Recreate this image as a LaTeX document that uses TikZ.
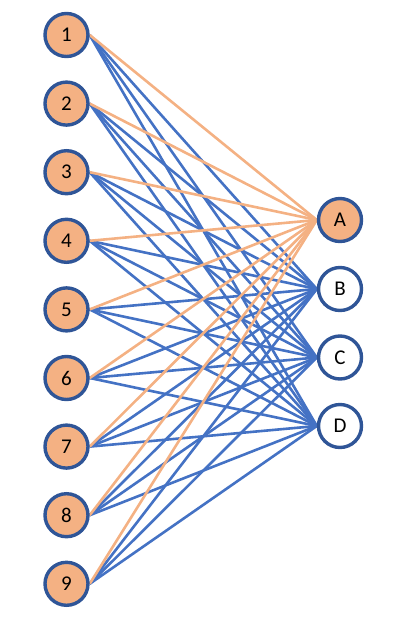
\documentclass[tikz,border=0pt]{standalone}
\usepackage{fontspec}
\setmainfont{Carlito}
\usetikzlibrary{backgrounds}
\definecolor{nodeorange}{HTML}{F4B183}
\definecolor{nodeborder}{HTML}{2F5597}
\definecolor{lineblue}{HTML}{4472C4}
\begin{document}
\begin{tikzpicture}[x=1pt,y=-1pt,
  vnode/.style={circle,draw=nodeborder,line width=3.4pt,minimum size=43pt,inner sep=0pt,
    font=\fontsize{21}{21}\selectfont},
  filled/.style={vnode,fill=nodeorange},
  empty/.style={vnode,fill=white},
  blueline/.style={draw=lineblue,line width=2.6pt},
  orangeline/.style={draw=nodeorange,line width=2.6pt}]
\useasboundingbox (0,0) rectangle (413,630);
\foreach \i in {1,...,9} {
  \node[filled] (L\i) at (66.5,{35+68.6*(\i-1)}) {\i};
}
\node[filled] (A) at (340,220) {A};
\node[empty] (B) at (340,289) {B};
\node[empty] (C) at (340,357.5) {C};
\node[empty] (D) at (340,426) {D};
\begin{scope}[on background layer]
\foreach \i in {1,...,9} {
  \foreach \r in {B,C,D} {
    \draw[blueline] (L\i.east) -- (\r.west);
  }
}
\foreach \i in {1,...,9} {
  \draw[orangeline] (L\i.east) -- (A.west);
}
\end{scope}
\end{tikzpicture}
\end{document}
